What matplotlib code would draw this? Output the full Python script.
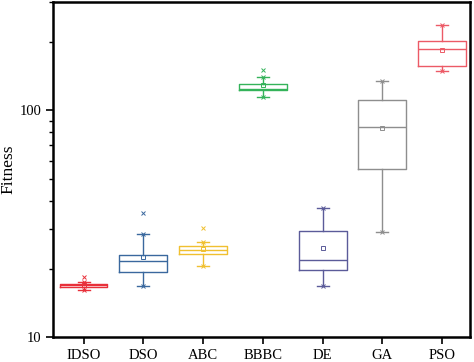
import numpy as np
import matplotlib
matplotlib.use('Agg')
import matplotlib.pyplot as plt
from matplotlib.ticker import LogLocator, NullFormatter, FixedLocator

plt.rcParams['font.family'] = 'Liberation Serif'

# box statistics
labels = ['IDSO', 'DSO', 'ABC', 'BBBC', 'DE', 'GA', 'PSO']
whislo = [16.1, 16.8, 20.6, 114.5, 16.8, 29.2, 149.0]
q1 = [16.6, 19.3, 23.2, 122.5, 19.7, 55.1, 156.7]
med = [16.9, 21.6, 24.2, 124.6, 21.8, 84.8, 185.6]
q3 = [17.1, 23.1, 25.2, 131.1, 29.5, 110.7, 202.0]
whishi = [17.5, 28.4, 26.3, 140.2, 36.9, 135.1, 239.0]
means = [16.9, 22.6, 24.5, 128.9, 24.6, 83.3, 184.3]
outliers = [[18.4], [35.1], [30.3], [150.1], [], [], []]

colors = ['#E8303A', '#3A689E', '#F0C030', '#34B35A', '#5B5B99', '#8E8E8E', '#EC5A66']

fig, ax = plt.subplots(figsize=(4.74, 3.62), dpi=100)
fig.subplots_adjust(left=0.112, right=0.992, top=0.994, bottom=0.069)

stats = []
for i in range(len(labels)):
    stats.append(dict(label=labels[i], whislo=whislo[i], q1=q1[i], med=med[i],
                      q3=q3[i], whishi=whishi[i], mean=means[i],
                      fliers=outliers[i]))

pos = np.arange(1, len(labels) + 1)
bp = ax.bxp(stats, positions=pos, widths=0.8, showmeans=True,
            showfliers=False, patch_artist=False)

for i, c in enumerate(colors):
    lw = 1.0
    bp['boxes'][i].set(color=c, linewidth=lw)
    bp['medians'][i].set(color=c, linewidth=lw)
    for w in bp['whiskers'][2 * i:2 * i + 2]:
        w.set(color=c, linewidth=lw)
    for cap in bp['caps'][2 * i:2 * i + 2]:
        cap.set(color=c, linewidth=lw)
        cx = np.mean(cap.get_xdata())
        cap.set_xdata([cx - 0.1, cx + 0.1])
    bp['means'][i].set(marker='s', markerfacecolor='none',
                       markeredgecolor=c, markersize=3.5, markeredgewidth=0.7)
    # min / max crosses at whisker ends
    ax.plot([pos[i], pos[i]], [whislo[i], whishi[i]], ls='none', marker='x',
            color=c, markersize=3, markeredgewidth=0.7)
    if outliers[i]:
        ax.plot([pos[i]] * len(outliers[i]), outliers[i], ls='none',
                marker='x', color=c, markersize=3.5, markeredgewidth=0.7)

ax.set_yscale('log')
ax.set_ylim(10, 300)
ax.set_xlim(0.49, 7.47)
ax.yaxis.set_major_locator(FixedLocator([10, 100]))
ax.yaxis.set_major_formatter(matplotlib.ticker.FixedFormatter(['10', '100']))
ax.yaxis.set_minor_locator(LogLocator(base=10, subs=np.arange(2, 10)))
ax.yaxis.set_minor_formatter(NullFormatter())

ax.set_xticks(pos)
ax.set_xticklabels(labels)
ax.tick_params(axis='both', which='major', direction='out', length=5,
               width=1.2, labelsize=10.5)
ax.tick_params(axis='y', which='minor', direction='out', length=3, width=1.0)
ax.tick_params(top=False, right=False)

for s in ax.spines.values():
    s.set_linewidth(1.8)

ax.set_ylabel('Fitness', fontsize=12.5)
ax.yaxis.set_label_coords(-0.088, 0.5)

plt.savefig('out.png', dpi=100)
